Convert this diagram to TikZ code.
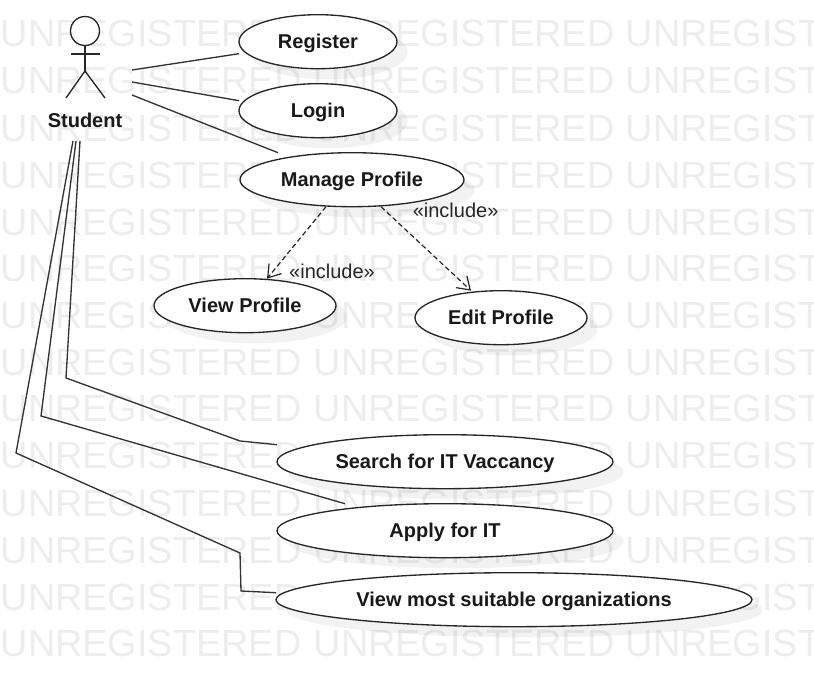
\documentclass[tikz,border=0pt]{standalone}
\usepackage{fontspec}
\setmainfont{Liberation Sans}
\usepackage{xcolor}
\usetikzlibrary{arrows.meta,positioning,shapes.geometric,shadows}

\begin{document}
\begin{tikzpicture}
      [ x=0.75pt, y=-0.75pt,
        line width=1pt, draw=black!85,
        usecase/.style={ellipse, draw, fill=white, inner sep=0pt, outer sep=0pt, minimum height=40.5pt,
          text height=12pt, text depth=2.2pt,
          font=\fontsize{15}{18}\selectfont\bfseries, text=black!90,
          drop shadow={shadow xshift=8pt, shadow yshift=-8pt, opacity=0.1}},
        watermark/.style={anchor=west, inner sep=0pt, text=black!7,
          font=\fontsize{28.4}{30}\selectfont},
        assoc/.style={draw=black!80, line width=1pt},
        includes/.style={dash pattern=on 3.75pt off 2.25pt, line width=0.9pt, -{Straight Barb[length=9pt,width=12pt]}},
        stereotype/.style={inner sep=0pt, font=\fontsize{15}{17}\selectfont, text=black!85}
      ]
      \clip (0,0) rectangle (814,688);

      % background text
      \foreach \row in {33,80,128,175,222,268,315,362,408,455,503,550,597,643}
        \foreach \col in {0,313,625}
          \node[watermark] (mark-\col-\row) at (\col,\row) {UNREGISTERED};

      % actor
      \node[circle,draw,fill=white,inner sep=0pt,minimum size=21.75pt] (head) at (85,31) {};
      \coordinate (neck) at (85,54);
      \coordinate (hip)  at (85,71);
      \node[inner sep=0pt,font=\fontsize{15}{18}\selectfont\bfseries,text=black!90] (student) at (85,120) {Student};
      \node[minimum width=84pt,minimum height=91.5pt,inner sep=0pt,outer sep=0pt] (actor) at (76,80) {};
      \draw (head.south) -- (hip);
      \draw ([xshift=-10.5pt]neck) -- ([xshift=11.25pt]neck);
      \draw ([xshift=-14.25pt,yshift=-20.25pt]hip) -- (hip) -- ([xshift=15pt,yshift=-20.25pt]hip);

      % use cases
      \node[usecase,minimum width=118.5pt] (register) at (318,41.7)           {Register};
      \node[usecase,minimum width=118.5pt] (login)    [below=11.25pt of register] {Login};
      \node[usecase,minimum width=168pt]   (manage)   [below=11.25pt of login,xshift=25.5pt] {Manage Profile};
      \node[usecase,minimum width=136.5pt] (view)     [below=54pt of manage,xshift=-80.25pt] {View Profile};
      \node[usecase,minimum width=129pt]   (edit)     [below=63pt of manage,xshift=111.75pt] {Edit Profile};
      \node[usecase,minimum width=252pt]   (search)   [below=76.5pt of view,xshift=150pt]    {Search for IT Vaccancy};
      \node[usecase,minimum width=252pt]   (apply)    [below=11.25pt of search]              {Apply for IT};
      \node[usecase,minimum width=357pt]   (suitable) [below=11.25pt of apply,xshift=51.75pt] {View most suitable organizations};

      % bends of the long connectors
      \coordinate (searchA) at (66,378);
      \coordinate (searchB) at (240,441);
      \coordinate (applyA)  at (41,416);
      \coordinate (suitA)   at (16,453);
      \coordinate (suitB)   at (240,553);
      \coordinate (suitC)   at (241,591);

      \path[assoc] ([yshift=7.5pt]actor.east)    edge ([yshift=-9pt]register.west)
                   ([yshift=-1.5pt]actor.east)   edge ([yshift=7.5pt]login.west)
                   ([yshift=-11.25pt]actor.east) edge ([xshift=-55.5pt]manage.north);
      \draw[assoc] ([xshift=3pt]actor.south) -- (searchA) -- (searchB) -- ([yshift=12.75pt]search.west);
      \draw[assoc] (actor.south) -- (applyA) -- ([xshift=-75pt]apply.north);
      \draw[assoc] ([xshift=-2.25pt]actor.south) -- (suitA) -- (suitB) -- (suitC) -- ([yshift=5.25pt]suitable.west);

      \path[includes] ([xshift=-19.5pt]manage.south) edge node[stereotype,pos=0.95,right=14pt,yshift=3pt] (viewLabel) {«include»} ([xshift=16.5pt]view.north)
                      ([xshift=21.75pt]manage.south) edge node[stereotype,pos=0.05,right=20pt,yshift=0.5pt] (editLabel) {«include»} ([xshift=-22.5pt]edit.north);
    \end{tikzpicture}
\end{document}
